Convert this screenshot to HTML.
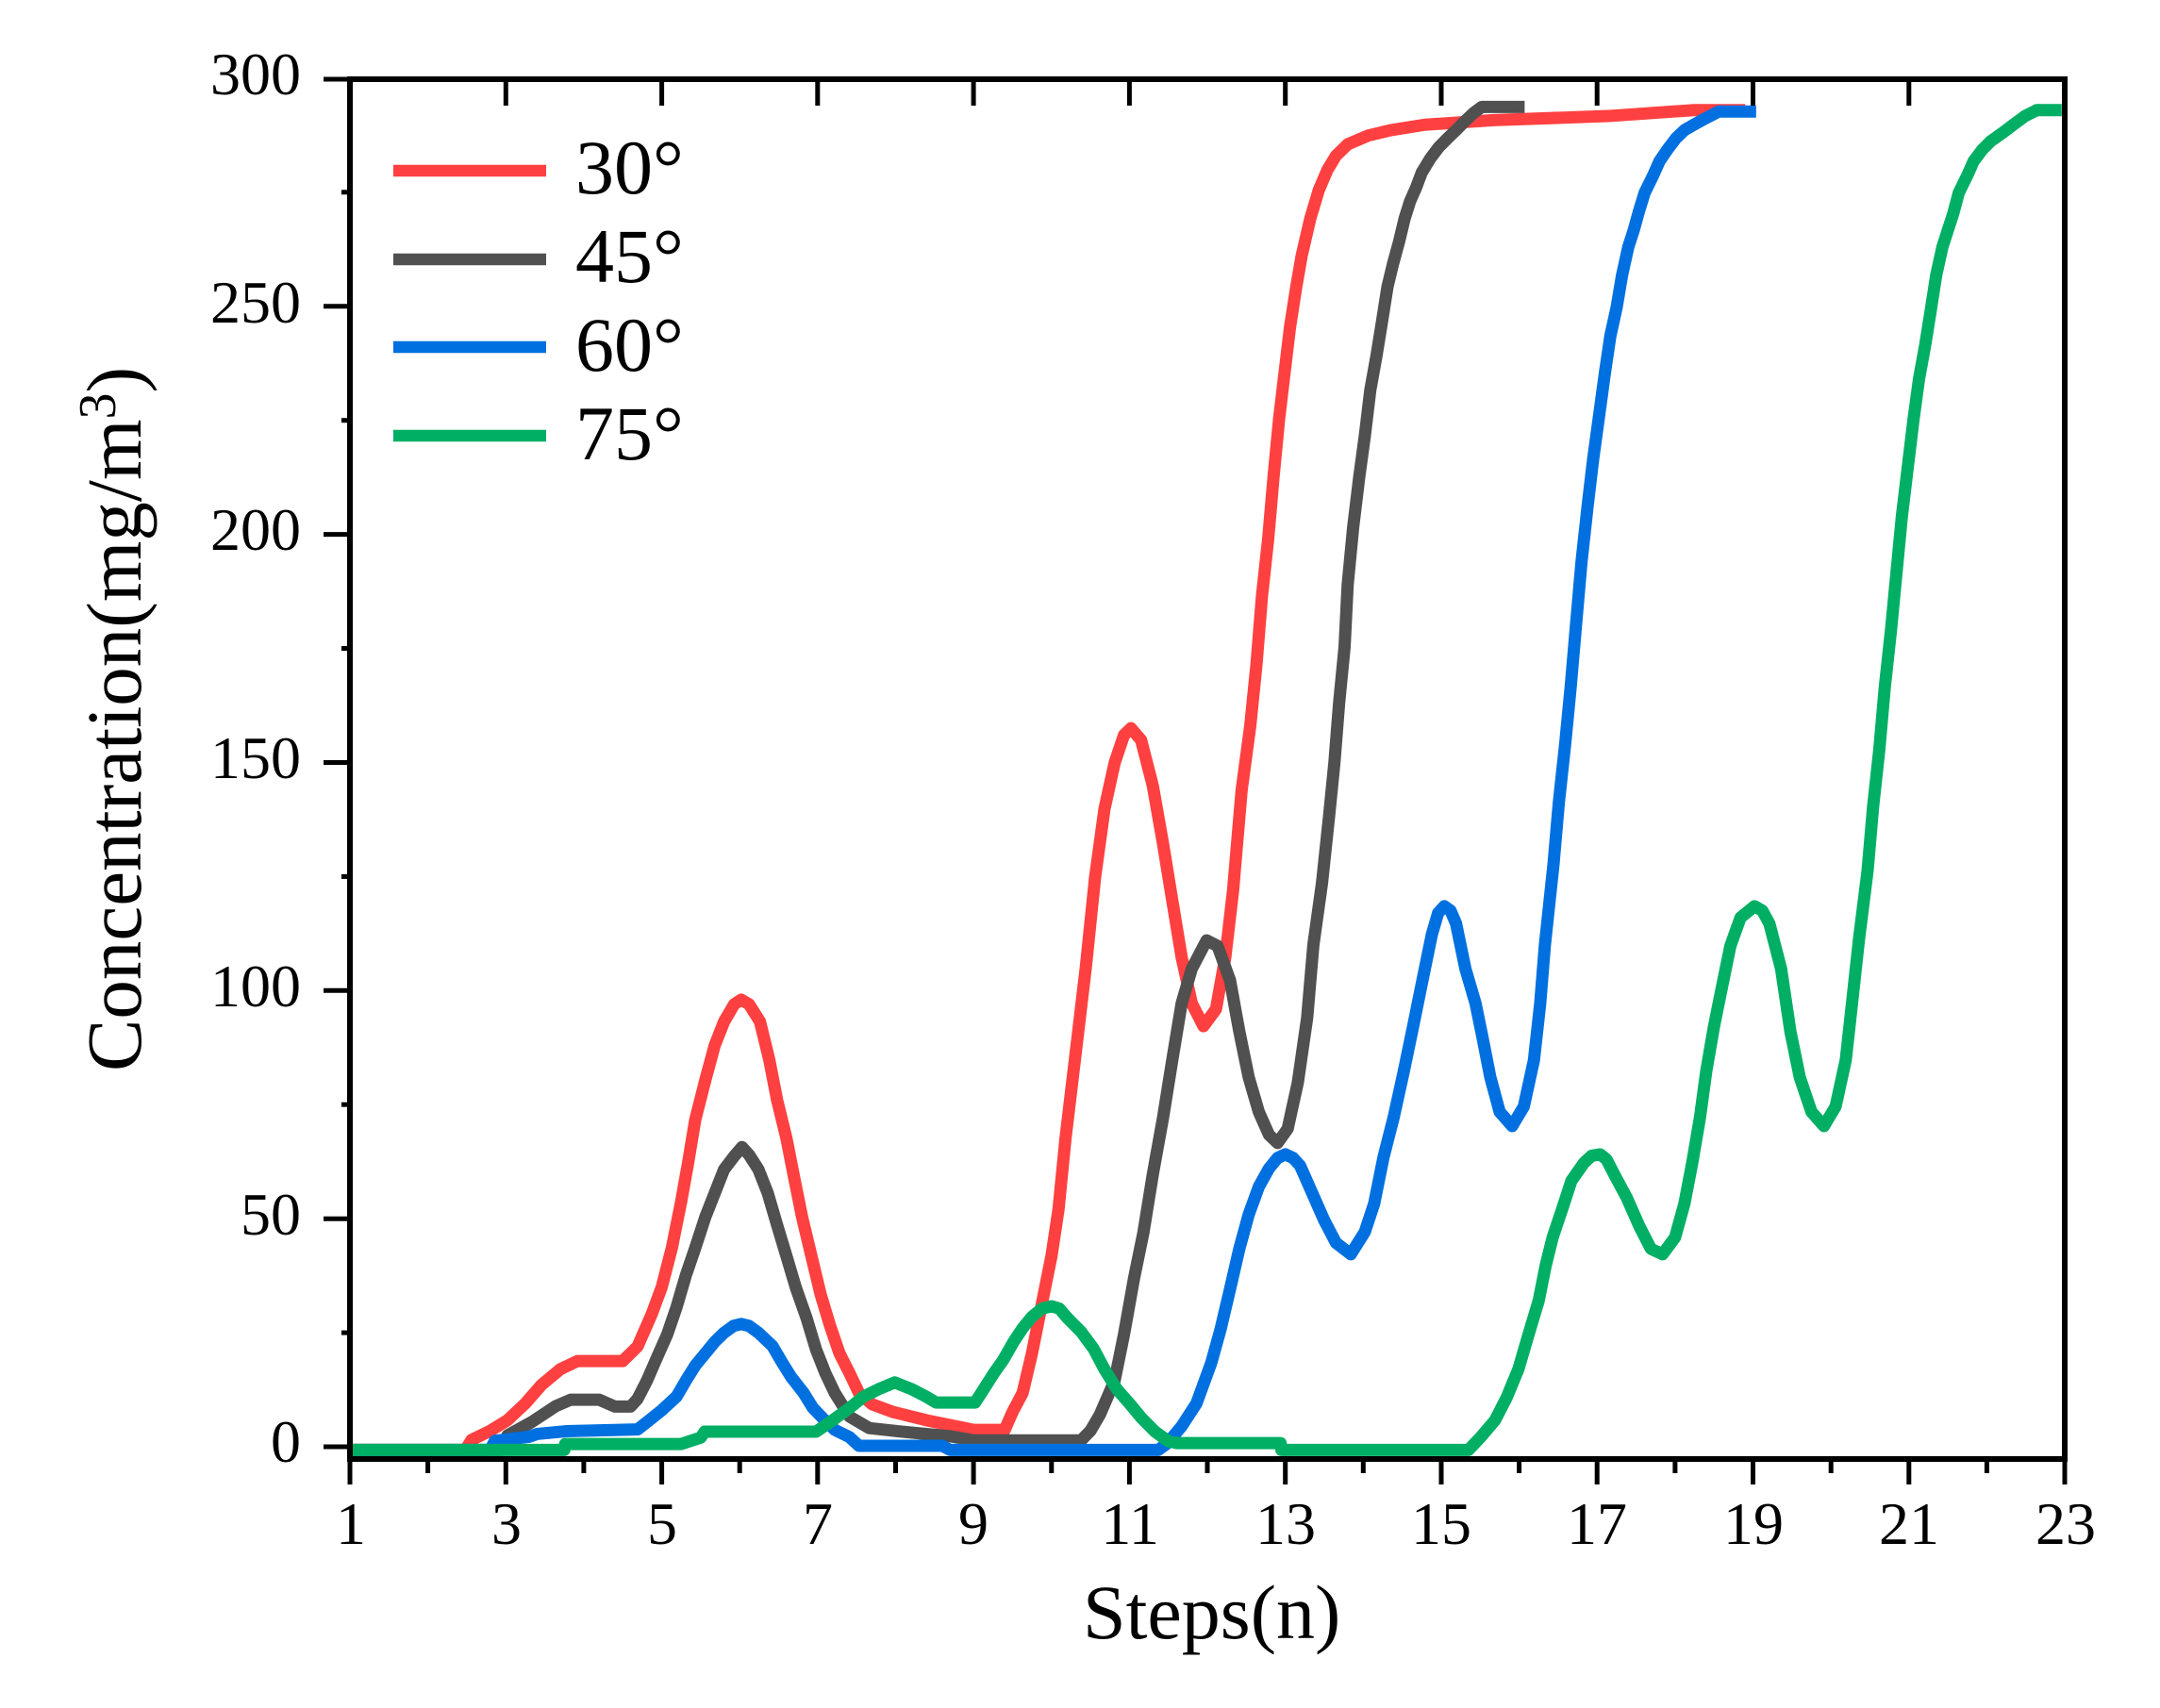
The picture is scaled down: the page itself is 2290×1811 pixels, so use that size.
<!DOCTYPE html>
<html>
<head>
<meta charset="utf-8">
<style>
html,body{margin:0;padding:0;background:#fff}
svg{display:block}
text{font-family:"Liberation Serif","Times New Roman",serif;fill:#000}
</style>
</head>
<body>
<svg width="2290" height="1811" viewBox="0 0 2290 1811" xmlns="http://www.w3.org/2000/svg">
<rect width="2290" height="1811" fill="#fff"/>
<g transform="translate(288.36 1534) scale(82.64 -4.837)" fill="none" stroke-linejoin="round" stroke-linecap="butt">
<polyline vector-effect="non-scaling-stroke" stroke-width="13" stroke="#FF4040" points="1,-0.7 2.48,-0.7 2.56,1.5 2.8,3.5 3.02,5.8 3.25,9.5 3.46,13.6 3.7,17 3.92,18.8 4.5,18.8 4.69,22 4.87,29 5.0,35 5.13,43.6 5.25,53.8 5.34,62.4 5.43,71.7 5.56,80.4 5.68,88 5.8,93.2 5.93,97 6.02,98 6.12,97 6.26,93.2 6.38,84.8 6.48,76 6.6,67.6 6.7,58.9 6.8,50.4 6.92,41.8 7.04,33.3 7.16,26.5 7.28,20.5 7.41,16.1 7.53,11.8 7.7,9.3 7.97,7.6 8.4,5.8 9.0,3.7 9.4,3.7 9.5,7.6 9.63,11.8 9.75,20.5 9.88,31.6 10.0,41.8 10.09,52 10.18,67.6 10.3,84.8 10.44,105 10.56,124.9 10.68,139.8 10.81,149.9 10.93,156 11.02,157.5 11.15,154.9 11.3,144.9 11.43,132.3 11.55,119.7 11.67,107.3 11.8,97.2 11.95,92.2 12.11,95.9 12.23,107.3 12.33,122 12.44,144 12.55,158 12.63,171.5 12.7,186.4 12.78,199 12.85,212.8 12.92,225.3 12.99,235.4 13.06,245.4 13.14,254.2 13.21,261.1 13.32,269.2 13.43,275.5 13.54,279.9 13.65,283 13.8,285.5 14.06,287.4 14.35,288.6 14.79,289.8 15.67,290.8 17.14,291.7 18.24,293 18.9,293"/>
<polyline vector-effect="non-scaling-stroke" stroke-width="13" stroke="#505050" points="1,-0.7 2.95,-0.7 3.02,2.5 3.33,5.4 3.64,8.9 3.83,10.3 4.2,10.3 4.4,8.8 4.6,8.8 4.69,10.5 4.81,14.5 4.94,19.6 5.07,24.6 5.19,30.6 5.31,37.6 5.43,43.6 5.56,50.4 5.68,55.6 5.8,60.8 5.93,63.7 6.03,65.7 6.12,64 6.24,60.8 6.36,55.6 6.48,48.6 6.6,41.8 6.72,34.9 6.86,28.1 6.98,21.3 7.1,16.1 7.22,11.8 7.41,6.6 7.66,4.1 8.09,3.3 8.7,2.3 9.0,1.4 10.38,1.4 10.5,3.5 10.62,7 10.81,14.5 10.93,24.6 11.06,37 11.18,47 11.3,59.7 11.43,72 11.55,84.8 11.67,97.2 11.8,104.8 11.99,111 12.13,109.8 12.29,102.3 12.41,91 12.53,81 12.66,73.4 12.79,68.4 12.9,66.6 13.03,69.7 13.16,79.8 13.28,94 13.36,110 13.47,123.5 13.56,138 13.63,150 13.69,163 13.76,175.3 13.8,189 13.87,201.5 13.95,212.8 14.02,221.6 14.09,231.6 14.17,239.2 14.24,246.6 14.31,254.2 14.38,259.2 14.46,264.2 14.53,269.2 14.6,273 14.68,276.1 14.75,279.3 14.86,282.4 14.97,284.9 15.08,286.8 15.19,288.6 15.3,290.5 15.41,292.3 15.52,293.7 16.07,293.7"/>
<polyline vector-effect="non-scaling-stroke" stroke-width="13" stroke="#0070E0" points="1,-0.7 2.8,-0.7 2.86,1.3 3.3,2.2 3.4,2.8 3.77,3.4 4.69,3.8 4.81,5.4 5.0,8 5.19,11 5.31,14.5 5.43,17.8 5.56,20.5 5.68,23 5.8,25 5.92,26.5 6.02,26.9 6.12,26.5 6.24,25 6.42,22.1 6.54,18.6 6.66,15.3 6.82,11.8 6.94,8.5 7.07,6.2 7.22,3.7 7.41,2.1 7.53,0.2 8.6,0.2 8.7,-0.7 11.37,-0.7 11.49,0.8 11.67,4.5 11.86,9.5 12.05,18.4 12.17,25.8 12.29,34.5 12.41,43.4 12.53,50.9 12.66,57 12.79,61 12.9,63.3 13.0,64.1 13.1,63.3 13.19,61.6 13.34,55.8 13.5,49.6 13.65,44.7 13.84,42.2 14.02,47.1 14.14,53.3 14.26,63.5 14.39,72.2 14.52,82.3 14.64,92.2 14.76,102.3 14.88,112.3 14.96,117 15.04,118.5 15.12,117.5 15.19,114.7 15.31,104.8 15.44,97.2 15.53,89.7 15.63,81 15.75,73.4 15.91,70.3 16.06,74.6 16.19,84.8 16.27,97.2 16.33,110 16.44,127.6 16.51,141.4 16.59,154 16.66,166.4 16.73,180.3 16.8,194 16.88,206.5 16.95,216.6 17.03,226.6 17.1,235.4 17.17,243.5 17.25,249.7 17.32,256.8 17.4,263 17.47,266.7 17.54,271 17.61,274.9 17.72,278.7 17.8,281.8 17.9,284.3 18.01,286.8 18.12,288.6 18.24,289.8 18.38,291.1 18.56,292.7 19.04,292.7"/>
<polyline vector-effect="non-scaling-stroke" stroke-width="13" stroke="#00AF64" points="1,-0.7 3.75,-0.7 3.76,0.6 5.25,0.6 5.5,2 5.55,3.3 6.98,3.3 7.16,5.4 7.41,8.5 7.59,11 7.78,12.6 7.99,14.1 8.21,12.6 8.39,11 8.52,9.7 9.02,9.7 9.13,12.6 9.26,16.1 9.38,19 9.51,22.9 9.63,26 9.75,28.5 9.88,30.3 10.0,30.8 10.1,30.3 10.2,28.3 10.38,25.2 10.54,21.5 10.68,17 10.84,12.6 11.0,9.5 11.15,6.4 11.33,3.3 11.5,1.2 11.61,0.8 12.94,0.8 12.95,-0.7 15.35,-0.7 15.5,2 15.69,5.8 15.84,10.8 15.99,17 16.12,24.6 16.25,32 16.34,39.7 16.43,45.9 16.55,52 16.67,58.3 16.83,62.2 16.93,63.8 17.04,64.1 17.12,63 17.22,59.7 17.38,54.6 17.54,48.4 17.69,43.4 17.84,42.2 18.0,45.9 18.12,53.3 18.22,62.2 18.32,72.2 18.4,82.3 18.5,92.2 18.62,102.3 18.71,109.8 18.84,116 19.02,118.5 19.12,117.5 19.21,114.7 19.36,104.8 19.48,91 19.6,81 19.75,73.4 19.91,70.3 20.06,74.6 20.19,84.8 20.27,97.2 20.36,111.3 20.47,126.3 20.54,140.2 20.62,152.8 20.69,166.4 20.77,179 20.84,191.5 20.91,204 20.99,215.4 21.06,225.3 21.13,234.1 21.21,241.6 21.28,249.1 21.35,256.8 21.43,263 21.5,266.7 21.57,270.4 21.64,274.9 21.75,278.7 21.83,281.8 21.94,284.3 22.05,286.2 22.2,288 22.34,289.8 22.49,291.7 22.64,293 22.96,293"/>
</g>
<g stroke="#000" fill="none">
<line x1="371" y1="81" x2="371" y2="1550" stroke-width="6"/>
<line x1="2189" y1="81" x2="2189" y2="1550" stroke-width="6"/>
<line x1="368" y1="84" x2="2192" y2="84" stroke-width="6"/>
<line x1="368" y1="1547" x2="2192" y2="1547" stroke-width="6"/>
</g>
<g stroke="#000" stroke-width="5">
<line x1="371" y1="1547" x2="371" y2="1574"/>
<line x1="536.3" y1="1547" x2="536.3" y2="1574"/>
<line x1="701.6" y1="1547" x2="701.6" y2="1574"/>
<line x1="866.8" y1="1547" x2="866.8" y2="1574"/>
<line x1="1032.1" y1="1547" x2="1032.1" y2="1574"/>
<line x1="1197.4" y1="1547" x2="1197.4" y2="1574"/>
<line x1="1362.7" y1="1547" x2="1362.7" y2="1574"/>
<line x1="1528" y1="1547" x2="1528" y2="1574"/>
<line x1="1693.2" y1="1547" x2="1693.2" y2="1574"/>
<line x1="1858.5" y1="1547" x2="1858.5" y2="1574"/>
<line x1="2023.8" y1="1547" x2="2023.8" y2="1574"/>
<line x1="2189" y1="1547" x2="2189" y2="1574"/>
<line x1="453.6" y1="1547" x2="453.6" y2="1562"/>
<line x1="618.9" y1="1547" x2="618.9" y2="1562"/>
<line x1="784.2" y1="1547" x2="784.2" y2="1562"/>
<line x1="949.5" y1="1547" x2="949.5" y2="1562"/>
<line x1="1114.8" y1="1547" x2="1114.8" y2="1562"/>
<line x1="1280" y1="1547" x2="1280" y2="1562"/>
<line x1="1445.3" y1="1547" x2="1445.3" y2="1562"/>
<line x1="1610.6" y1="1547" x2="1610.6" y2="1562"/>
<line x1="1775.9" y1="1547" x2="1775.9" y2="1562"/>
<line x1="1941.2" y1="1547" x2="1941.2" y2="1562"/>
<line x1="2106.4" y1="1547" x2="2106.4" y2="1562"/>
<line x1="536.3" y1="84" x2="536.3" y2="112"/>
<line x1="701.6" y1="84" x2="701.6" y2="112"/>
<line x1="866.8" y1="84" x2="866.8" y2="112"/>
<line x1="1032.1" y1="84" x2="1032.1" y2="112"/>
<line x1="1197.4" y1="84" x2="1197.4" y2="112"/>
<line x1="1362.7" y1="84" x2="1362.7" y2="112"/>
<line x1="1528" y1="84" x2="1528" y2="112"/>
<line x1="1693.2" y1="84" x2="1693.2" y2="112"/>
<line x1="1858.5" y1="84" x2="1858.5" y2="112"/>
<line x1="2023.8" y1="84" x2="2023.8" y2="112"/>
<line x1="343" y1="1534" x2="371" y2="1534"/>
<line x1="343" y1="1292.2" x2="371" y2="1292.2"/>
<line x1="343" y1="1050.3" x2="371" y2="1050.3"/>
<line x1="343" y1="808.5" x2="371" y2="808.5"/>
<line x1="343" y1="566.6" x2="371" y2="566.6"/>
<line x1="343" y1="324.8" x2="371" y2="324.8"/>
<line x1="343" y1="84" x2="371" y2="84"/>
<line x1="362" y1="1413.1" x2="371" y2="1413.1"/>
<line x1="362" y1="1171.2" x2="371" y2="1171.2"/>
<line x1="362" y1="929.4" x2="371" y2="929.4"/>
<line x1="362" y1="687.5" x2="371" y2="687.5"/>
<line x1="362" y1="445.7" x2="371" y2="445.7"/>
<line x1="362" y1="203.8" x2="371" y2="203.8"/>
</g>
<g font-size="64" text-anchor="middle">
<text x="372" y="1637">1</text>
<text x="537" y="1637">3</text>
<text x="702" y="1637">5</text>
<text x="867" y="1637">7</text>
<text x="1032" y="1637">9</text>
<text x="1198" y="1637">11</text>
<text x="1363" y="1637">13</text>
<text x="1528" y="1637">15</text>
<text x="1693" y="1637">17</text>
<text x="1859" y="1637">19</text>
<text x="2024" y="1637">21</text>
<text x="2190" y="1637">23</text>
</g>
<g font-size="64" text-anchor="end">
<text x="319" y="1550">0</text>
<text x="319" y="1309">50</text>
<text x="319" y="1067">100</text>
<text x="319" y="825">150</text>
<text x="319" y="583">200</text>
<text x="319" y="342">250</text>
<text x="319" y="100">300</text>
</g>
<text x="1148" y="1737" font-size="82">Steps(n)</text>
<text transform="translate(149,1136) rotate(-90)" font-size="83">Concentration(mg/m<tspan font-size="56" dy="-27">3</tspan><tspan dy="27">)</tspan></text>
<g stroke-width="12.5">
<line x1="417" y1="181" x2="579" y2="181" stroke="#FF4040"/>
<line x1="417" y1="275" x2="579" y2="275" stroke="#505050"/>
<line x1="417" y1="368" x2="579" y2="368" stroke="#0070E0"/>
<line x1="417" y1="462" x2="579" y2="462" stroke="#00AF64"/>
</g>
<g font-size="82">
<text x="610" y="205">30°</text>
<text x="610" y="299">45°</text>
<text x="610" y="393">60°</text>
<text x="610" y="487">75°</text>
</g>
</svg>
</body>
</html>
